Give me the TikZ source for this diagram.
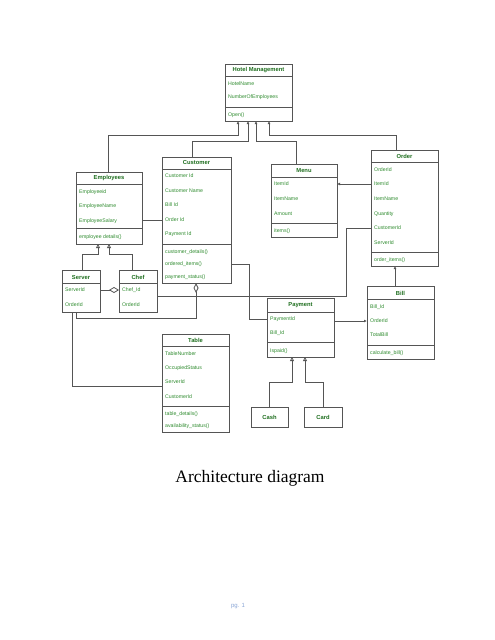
\documentclass[tikz,border=0pt]{standalone}
\usepackage{fontspec}
\setmainfont{Liberation Serif}
\newfontfamily\umlfont{Liberation Sans}
\usetikzlibrary{arrows.meta}
\definecolor{umlgreen}{HTML}{2E8B2E}
\definecolor{titlegreen}{HTML}{1E6E1E}
\definecolor{linegray}{HTML}{555555}
\definecolor{pgblue}{HTML}{8AA6D6}

\newcommand{\umlbox}[5]{%
  \node[classbox, anchor=north west, minimum width={(#4)-(#2)}, minimum height={(#5)-(#3)}] (#1) at (#2,#3) {};}
\newcommand{\hsep}[3]{\draw[sepline] (#1,#3) -- (#2,#3);}
\newcommand{\umlrows}[2]{\foreach \yy/\rowtxt in {#2} {\node[attr] at (#1,\yy) {\rowtxt};}}

\begin{document}
\begin{tikzpicture}[x=1pt,y=-1pt,
  classbox/.style={draw=linegray, line width=0.8pt, inner sep=0pt, outer sep=0pt, fill=white},
  sepline/.style={draw=linegray, line width=0.7pt},
  ttl/.style={font=\umlfont\bfseries\fontsize{5.8}{6}\selectfont, text=titlegreen, inner sep=0pt},
  attr/.style={font=\umlfont\fontsize{5.2}{6}\selectfont, text=umlgreen, anchor=west, inner sep=0pt},
  conn/.style={draw=linegray, line width=0.8pt},
  fillarrow/.style={-{Latex[length=3pt,width=2.8pt]}},
  opentri/.style={-{Triangle[open,length=4pt,width=4pt]}},
  odiamond/.style={-{Diamond[open,length=10pt,width=6pt]}}
]
\fill[white] (0,0) rectangle (495,640);
\useasboundingbox (0,0) rectangle (495,640);

% Hotel Management
\umlbox{hm}{225}{64}{292}{121}
\hsep{225}{292}{76}\hsep{225}{292}{107}
\node[ttl] (hmt) at (258.5,70) {Hotel Management};
\umlrows{228}{84/HotelName, 97/NumberOfEmployees, 115/Open()}

% Employees
\umlbox{emp}{76}{172}{142}{244}
\hsep{76}{142}{184}\hsep{76}{142}{228}
\node[ttl] (empt) at (109,178) {Employees};
\umlrows{79}{192/Employeeid, 206/EmployeeName, 221/EmployeeSalary, 237/employee details()}

% Customer
\umlbox{cust}{162}{157}{231}{283}
\hsep{162}{231}{169}\hsep{162}{231}{244}
\node[ttl] (custt) at (196.5,163) {Customer};
\umlrows{165}{176/Customer Id, 191/Customer Name, 205/Bill Id, 220/Order Id, 234/Payment Id, 252/customer\_details(), 264/ordered\_items(), 277/payment\_status()}

% Menu
\umlbox{menu}{271}{164}{337}{237}
\hsep{271}{337}{177}\hsep{271}{337}{223}
\node[ttl] (menut) at (304,171) {Menu};
\umlrows{274}{184/ItemId, 199/ItemName, 214/Amount, 231/items()}

% Order
\umlbox{order}{371}{150}{438}{266}
\hsep{371}{438}{162}\hsep{371}{438}{252}
\node[ttl] (ordert) at (404.5,156) {Order};
\umlrows{374}{170/OrderId, 184/ItemId, 199/ItemName, 214/Quantity, 228/CustomerId, 243/ServerId, 260/order\_items()}

% Server
\umlbox{server}{62}{270}{100}{312}
\hsep{62}{100}{283}
\node[ttl] (servert) at (81,277) {Server};
\umlrows{65}{290/ServerId, 305/OrderId}

% Chef
\umlbox{chef}{119}{270}{157}{312}
\hsep{119}{157}{283}
\node[ttl] (cheft) at (138,277) {Chef};
\umlrows{122}{290/Chef\_Id, 305/OrderId}

% Payment
\umlbox{pay}{267}{298}{334}{357}
\hsep{267}{334}{312}\hsep{267}{334}{342}
\node[ttl] (payt) at (300.5,305) {Payment};
\umlrows{270}{319/PaymentId, 333/Bill\_Id, 351/Ispaid()}

% Bill
\umlbox{bill}{367}{286}{434}{359}
\hsep{367}{434}{299}\hsep{367}{434}{345}
\node[ttl] (billt) at (400.5,293) {Bill};
\umlrows{370}{307/Bill\_Id, 321/OrderId, 335/TotalBill, 353/calculate\_bill()}

% Table
\umlbox{table}{162}{334}{229}{432}
\hsep{162}{229}{346}\hsep{162}{229}{406}
\node[ttl] (tablet) at (195.5,340) {Table};
\umlrows{165}{354/TableNumber, 368/OccupiedStatus, 382/ServerId, 397/CustomerId, 414/table\_details(), 426/availability\_status()}

% Cash and Card
\umlbox{cash}{251}{407}{288}{427}
\node[ttl] (casht) at (269.5,417) {Cash};
\umlbox{card}{304}{407}{342}{427}
\node[ttl] (cardt) at (323,417) {Card};

% connectors to Hotel Management
\draw[conn, fillarrow] (108,0 |- emp.north) |- (238,135) -- (238,0 |- hm.south);
\draw[conn, fillarrow] (192,0 |- cust.north) |- (248,141) -- (248,0 |- hm.south);
\draw[conn, fillarrow] (296,0 |- menu.north) |- (256,141) -- (256,0 |- hm.south);
\draw[conn, fillarrow] (396,0 |- order.north) |- (269,135) -- (269,0 |- hm.south);

% other connectors
\draw[conn] (emp.east |- 0,220) -- (cust.west |- 0,220);
\draw[conn, fillarrow] (order.west |- 0,184) -- (menu.east |- 0,184);
\draw[conn] (order.west |- 0,228) -| (346,296) -- (chef.east |- 0,296);
\draw[conn, fillarrow] (395,0 |- bill.north) -- (395,0 |- order.south);
\draw[conn, fillarrow] (pay.east |- 0,321) -- (bill.west |- 0,321);
\draw[conn] (cust.east |- 0,264) -| (249,319) -- (pay.west |- 0,319);
\draw[conn, odiamond] (server.east |- 0,290) -- (chef.west |- 0,290);
\draw[conn, opentri] (82,0 |- server.north) |- (98,254) -- (98,0 |- emp.south);
\draw[conn, opentri] (132,0 |- chef.north) |- (109,254) -- (109,0 |- emp.south);
\draw[conn, -{Diamond[open,length=10pt,width=5pt]}] (76,0 |- server.south) |- (196,318) -- (196,0 |- cust.south);
\draw[conn] (72,0 |- server.south) |- (table.west |- 0,386);
\draw[conn, opentri] (269,0 |- cash.north) |- (292,382) -- (292,0 |- pay.south);
\draw[conn, opentri] (323,0 |- card.north) |- (305,382) -- (305,0 |- pay.south);

% caption
\node[font=\fontsize{17.5}{20}\selectfont, inner sep=0pt] (cap) at (250,478) {Architecture diagram};
\node[font=\umlfont\fontsize{6}{7}\selectfont, text=pgblue, inner sep=0pt] (pg) at (238,606) {pg. 1};
\end{tikzpicture}
\end{document}
